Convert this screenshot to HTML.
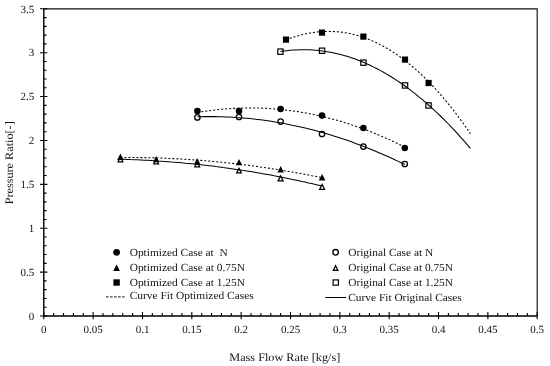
<!DOCTYPE html>
<html><head><meta charset="utf-8"><title>Pressure Ratio vs Mass Flow Rate</title>
<style>html,body{margin:0;padding:0;background:#fff;}svg{display:block;}text{text-rendering:geometricPrecision;}</style></head>
<body>
<svg width="550" height="366" viewBox="0 0 550 366">
<rect width="550" height="366" fill="#fff"/>
<path d="M43.8,8.8 H537.2 V316.0" fill="none" stroke="#111" stroke-width="1.15"/>
<path d="M43.8,8.3 V316.0 H537.2" fill="none" stroke="#000" stroke-width="1.4"/>
<path d="M43.80,312.1 V319.2 M53.67,313.0 V316.0 M63.54,313.0 V316.0 M73.40,313.0 V316.0 M83.27,313.0 V316.0 M93.14,312.1 V319.2 M103.01,313.0 V316.0 M112.88,313.0 V316.0 M122.74,313.0 V316.0 M132.61,313.0 V316.0 M142.48,312.1 V319.2 M152.35,313.0 V316.0 M162.22,313.0 V316.0 M172.08,313.0 V316.0 M181.95,313.0 V316.0 M191.82,312.1 V319.2 M201.69,313.0 V316.0 M211.56,313.0 V316.0 M221.42,313.0 V316.0 M231.29,313.0 V316.0 M241.16,312.1 V319.2 M251.03,313.0 V316.0 M260.90,313.0 V316.0 M270.76,313.0 V316.0 M280.63,313.0 V316.0 M290.50,312.1 V319.2 M300.37,313.0 V316.0 M310.24,313.0 V316.0 M320.10,313.0 V316.0 M329.97,313.0 V316.0 M339.84,312.1 V319.2 M349.71,313.0 V316.0 M359.58,313.0 V316.0 M369.44,313.0 V316.0 M379.31,313.0 V316.0 M389.18,312.1 V319.2 M399.05,313.0 V316.0 M408.92,313.0 V316.0 M418.78,313.0 V316.0 M428.65,313.0 V316.0 M438.52,312.1 V319.2 M448.39,313.0 V316.0 M458.26,313.0 V316.0 M468.12,313.0 V316.0 M477.99,313.0 V316.0 M487.86,312.1 V319.2 M497.73,313.0 V316.0 M507.60,313.0 V316.0 M517.46,313.0 V316.0 M527.33,313.0 V316.0 M537.20,312.1 V319.2 M40.0,316.00 H47.4 M43.8,307.22 H46.599999999999994 M43.8,298.45 H46.599999999999994 M43.8,289.67 H46.599999999999994 M43.8,280.89 H46.599999999999994 M40.0,272.11 H47.4 M43.8,263.34 H46.599999999999994 M43.8,254.56 H46.599999999999994 M43.8,245.78 H46.599999999999994 M43.8,237.01 H46.599999999999994 M40.0,228.23 H47.4 M43.8,219.45 H46.599999999999994 M43.8,210.67 H46.599999999999994 M43.8,201.90 H46.599999999999994 M43.8,193.12 H46.599999999999994 M40.0,184.34 H47.4 M43.8,175.57 H46.599999999999994 M43.8,166.79 H46.599999999999994 M43.8,158.01 H46.599999999999994 M43.8,149.23 H46.599999999999994 M40.0,140.46 H47.4 M43.8,131.68 H46.599999999999994 M43.8,122.90 H46.599999999999994 M43.8,114.13 H46.599999999999994 M43.8,105.35 H46.599999999999994 M40.0,96.57 H47.4 M43.8,87.79 H46.599999999999994 M43.8,79.02 H46.599999999999994 M43.8,70.24 H46.599999999999994 M43.8,61.46 H46.599999999999994 M40.0,52.69 H47.4 M43.8,43.91 H46.599999999999994 M43.8,35.13 H46.599999999999994 M43.8,26.35 H46.599999999999994 M43.8,17.58 H46.599999999999994 M40.0,8.80 H47.4" fill="none" stroke="#000" stroke-width="1.1"/>
<g font-family="'Liberation Serif', serif" font-size="11px" fill="#111">
<text x="43.8" y="332.8" text-anchor="middle">0</text>
<text x="93.1" y="332.8" text-anchor="middle">0.05</text>
<text x="142.5" y="332.8" text-anchor="middle">0.1</text>
<text x="191.8" y="332.8" text-anchor="middle">0.15</text>
<text x="241.2" y="332.8" text-anchor="middle">0.2</text>
<text x="290.5" y="332.8" text-anchor="middle">0.25</text>
<text x="339.8" y="332.8" text-anchor="middle">0.3</text>
<text x="389.2" y="332.8" text-anchor="middle">0.35</text>
<text x="438.5" y="332.8" text-anchor="middle">0.4</text>
<text x="487.9" y="332.8" text-anchor="middle">0.45</text>
<text x="537.2" y="332.8" text-anchor="middle">0.5</text>
<text x="34.3" y="319.7" text-anchor="end">0</text>
<text x="34.3" y="275.8" text-anchor="end">0.5</text>
<text x="34.3" y="231.9" text-anchor="end">1</text>
<text x="34.3" y="188.0" text-anchor="end">1.5</text>
<text x="34.3" y="144.2" text-anchor="end">2</text>
<text x="34.3" y="100.3" text-anchor="end">2.5</text>
<text x="34.3" y="56.4" text-anchor="end">3</text>
<text x="34.3" y="12.5" text-anchor="end">3.5</text>
</g>
<g font-family="'Liberation Serif', serif" font-size="11.4px" fill="#111">
<text x="229.3" y="361.4" textLength="111" lengthAdjust="spacingAndGlyphs">Mass Flow Rate [kg/s]</text>
<text transform="translate(12.8,204.3) rotate(-90)" textLength="83" lengthAdjust="spacingAndGlyphs">Pressure Ratio[-]</text>
</g>
<g fill="none" stroke="#000">
<path d="M197.4,112.5 L200.9,111.9 L204.4,111.4 L207.9,110.9 L211.5,110.4 L215.0,110.0 L218.5,109.6 L222.0,109.2 L225.5,108.9 L229.0,108.7 L232.6,108.4 L236.1,108.3 L239.6,108.1 L243.1,108.0 L246.6,108.0 L250.1,107.9 L253.6,108.0 L257.2,108.0 L260.7,108.1 L264.2,108.3 L267.7,108.4 L271.2,108.7 L274.7,108.9 L278.3,109.2 L281.8,109.6 L285.3,110.0 L288.8,110.4 L292.3,110.9 L295.8,111.4 L299.3,111.9 L302.9,112.5 L306.4,113.1 L309.9,113.8 L313.4,114.5 L316.9,115.3 L320.4,116.0 L323.9,116.9 L327.5,117.7 L331.0,118.7 L334.5,119.6 L338.0,120.6 L341.5,121.6 L345.0,122.7 L348.6,123.8 L352.1,125.0 L355.6,126.2 L359.1,127.4 L362.6,128.7 L366.1,130.0 L369.6,131.3 L373.2,132.7 L376.7,134.2 L380.2,135.7 L383.7,137.2 L387.2,138.7 L390.7,140.3 L394.3,142.0 L397.8,143.7 L401.3,145.4 L404.8,147.1" stroke-width="1.05" stroke-dasharray="2 2"/>
<path d="M197.4,116.8 L200.9,116.7 L204.4,116.6 L207.9,116.6 L211.5,116.6 L215.0,116.6 L218.5,116.7 L222.0,116.8 L225.5,116.9 L229.0,117.0 L232.6,117.2 L236.1,117.5 L239.6,117.7 L243.1,118.0 L246.6,118.3 L250.1,118.6 L253.6,119.0 L257.2,119.4 L260.7,119.8 L264.2,120.3 L267.7,120.8 L271.2,121.3 L274.7,121.9 L278.3,122.5 L281.8,123.1 L285.3,123.8 L288.8,124.4 L292.3,125.2 L295.8,125.9 L299.3,126.7 L302.9,127.5 L306.4,128.3 L309.9,129.2 L313.4,130.1 L316.9,131.0 L320.4,132.0 L323.9,133.0 L327.5,134.0 L331.0,135.1 L334.5,136.2 L338.0,137.3 L341.5,138.5 L345.0,139.6 L348.6,140.8 L352.1,142.1 L355.6,143.4 L359.1,144.7 L362.6,146.0 L366.1,147.4 L369.6,148.8 L373.2,150.2 L376.7,151.7 L380.2,153.2 L383.7,154.7 L387.2,156.3 L390.7,157.8 L394.3,159.5 L397.8,161.1 L401.3,162.8 L404.8,164.5" stroke-width="1.05"/>
<path d="M120.4,157.5 L123.8,157.5 L127.2,157.5 L130.7,157.5 L134.1,157.5 L137.5,157.5 L140.9,157.6 L144.3,157.6 L147.7,157.7 L151.2,157.8 L154.6,157.9 L158.0,158.0 L161.4,158.1 L164.8,158.3 L168.3,158.4 L171.7,158.6 L175.1,158.7 L178.5,158.9 L181.9,159.1 L185.4,159.3 L188.8,159.5 L192.2,159.8 L195.6,160.0 L199.0,160.3 L202.4,160.5 L205.9,160.8 L209.3,161.1 L212.7,161.4 L216.1,161.7 L219.5,162.1 L223.0,162.4 L226.4,162.8 L229.8,163.1 L233.2,163.5 L236.6,163.9 L240.1,164.3 L243.5,164.7 L246.9,165.2 L250.3,165.6 L253.7,166.1 L257.1,166.5 L260.6,167.0 L264.0,167.5 L267.4,168.0 L270.8,168.5 L274.2,169.0 L277.7,169.6 L281.1,170.1 L284.5,170.7 L287.9,171.3 L291.3,171.9 L294.8,172.5 L298.2,173.1 L301.6,173.7 L305.0,174.3 L308.4,175.0 L311.8,175.7 L315.3,176.3 L318.7,177.0 L322.1,177.7" stroke-width="1.05" stroke-dasharray="2 2"/>
<path d="M120.4,159.2 L123.8,159.3 L127.2,159.4 L130.7,159.6 L134.1,159.7 L137.5,159.8 L140.9,160.0 L144.3,160.2 L147.7,160.3 L151.2,160.5 L154.6,160.7 L158.0,161.0 L161.4,161.2 L164.8,161.4 L168.3,161.7 L171.7,162.0 L175.1,162.2 L178.5,162.5 L181.9,162.8 L185.4,163.2 L188.8,163.5 L192.2,163.8 L195.6,164.2 L199.0,164.5 L202.4,164.9 L205.9,165.3 L209.3,165.7 L212.7,166.1 L216.1,166.6 L219.5,167.0 L223.0,167.5 L226.4,167.9 L229.8,168.4 L233.2,168.9 L236.6,169.4 L240.1,169.9 L243.5,170.5 L246.9,171.0 L250.3,171.5 L253.7,172.1 L257.1,172.7 L260.6,173.3 L264.0,173.9 L267.4,174.5 L270.8,175.1 L274.2,175.8 L277.7,176.4 L281.1,177.1 L284.5,177.8 L287.9,178.5 L291.3,179.2 L294.8,179.9 L298.2,180.6 L301.6,181.4 L305.0,182.1 L308.4,182.9 L311.8,183.6 L315.3,184.4 L318.7,185.2 L322.1,186.1" stroke-width="1.05"/>
<path d="M286.0,40.0 L289.1,38.7 L292.3,37.6 L295.4,36.6 L298.5,35.7 L301.6,34.8 L304.8,34.1 L307.9,33.4 L311.0,32.8 L314.1,32.4 L317.3,32.0 L320.4,31.7 L323.5,31.5 L326.6,31.4 L329.8,31.4 L332.9,31.5 L336.0,31.7 L339.1,31.9 L342.3,32.3 L345.4,32.8 L348.5,33.3 L351.6,34.0 L354.8,34.8 L357.9,35.6 L361.0,36.6 L364.1,37.6 L367.3,38.8 L370.4,40.0 L373.5,41.4 L376.6,42.8 L379.8,44.4 L382.9,46.0 L386.0,47.8 L389.1,49.6 L392.3,51.6 L395.4,53.6 L398.5,55.7 L401.6,58.0 L404.8,60.3 L407.9,62.8 L411.0,65.4 L414.1,68.0 L417.3,70.8 L420.4,73.6 L423.5,76.6 L426.6,79.7 L429.8,82.8 L432.9,86.1 L436.0,89.5 L439.1,93.0 L442.3,96.6 L445.4,100.3 L448.5,104.1 L451.6,108.0 L454.8,112.0 L457.9,116.1 L461.0,120.4 L464.1,124.7 L467.3,129.2 L470.4,133.7" stroke-width="1.05" stroke-dasharray="2 2"/>
<path d="M280.4,51.6 L283.6,51.1 L286.8,50.7 L290.1,50.3 L293.3,50.1 L296.5,49.9 L299.7,49.7 L302.9,49.7 L306.2,49.7 L309.4,49.8 L312.6,50.0 L315.8,50.2 L319.0,50.5 L322.3,50.9 L325.5,51.4 L328.7,51.9 L331.9,52.5 L335.1,53.2 L338.4,53.9 L341.6,54.8 L344.8,55.7 L348.0,56.6 L351.2,57.7 L354.5,58.8 L357.7,60.0 L360.9,61.3 L364.1,62.6 L367.3,64.0 L370.6,65.5 L373.8,67.1 L377.0,68.7 L380.2,70.4 L383.5,72.2 L386.7,74.1 L389.9,76.0 L393.1,78.0 L396.3,80.1 L399.6,82.3 L402.8,84.5 L406.0,86.8 L409.2,89.2 L412.4,91.6 L415.7,94.2 L418.9,96.8 L422.1,99.4 L425.3,102.2 L428.5,105.0 L431.8,107.9 L435.0,110.9 L438.2,113.9 L441.4,117.0 L444.6,120.2 L447.9,123.5 L451.1,126.8 L454.3,130.2 L457.5,133.7 L460.7,137.3 L464.0,140.9 L467.2,144.6 L470.4,148.4" stroke-width="1.05"/>
</g>
<circle cx="197.4" cy="117.4" r="2.70" fill="none" stroke="#000" stroke-width="1.3"/>
<circle cx="239" cy="117" r="2.70" fill="none" stroke="#000" stroke-width="1.3"/>
<circle cx="280.6" cy="121.6" r="2.70" fill="none" stroke="#000" stroke-width="1.3"/>
<circle cx="322" cy="134" r="2.70" fill="none" stroke="#000" stroke-width="1.3"/>
<circle cx="363.4" cy="146.6" r="2.70" fill="none" stroke="#000" stroke-width="1.3"/>
<circle cx="404.8" cy="164" r="2.70" fill="none" stroke="#000" stroke-width="1.3"/>
<circle cx="197.4" cy="111" r="3.30" fill="#000"/>
<circle cx="239" cy="111" r="3.30" fill="#000"/>
<circle cx="280.6" cy="109" r="3.30" fill="#000"/>
<circle cx="322" cy="115.6" r="3.30" fill="#000"/>
<circle cx="363.4" cy="128" r="3.30" fill="#000"/>
<circle cx="404.8" cy="148" r="3.30" fill="#000"/>
<path d="M120.4,157.00 L122.79,161.78 H118.01 Z" fill="none" stroke="#000" stroke-width="1.25"/>
<path d="M156.2,159.00 L158.59,163.78 H153.81 Z" fill="none" stroke="#000" stroke-width="1.25"/>
<path d="M197.2,162.00 L199.59,166.78 H194.81 Z" fill="none" stroke="#000" stroke-width="1.25"/>
<path d="M239,168.30 L241.34,172.97 H236.66 Z" fill="none" stroke="#000" stroke-width="1.25"/>
<path d="M280.6,175.90 L283.14,180.97 H278.06 Z" fill="none" stroke="#000" stroke-width="1.25"/>
<path d="M322.1,184.40 L324.54,189.28 H319.66 Z" fill="none" stroke="#000" stroke-width="1.25"/>
<path d="M120.4,153.6 L123.60,160.0 H117.20 Z" fill="#000"/>
<path d="M156.2,156.0 L159.35,162.3 H153.05 Z" fill="#000"/>
<path d="M197.2,158.0 L200.35,164.3 H194.05 Z" fill="#000"/>
<path d="M239,159.0 L242.10,165.2 H235.90 Z" fill="#000"/>
<path d="M280.6,165.9 L283.85,172.4 H277.35 Z" fill="#000"/>
<path d="M322.1,173.9 L325.45,180.6 H318.75 Z" fill="#000"/>
<rect x="277.8" y="49.0" width="5.30" height="5.30" fill="none" stroke="#000" stroke-width="1.2"/>
<rect x="319.4" y="48.1" width="5.30" height="5.30" fill="none" stroke="#000" stroke-width="1.2"/>
<rect x="360.8" y="60.0" width="5.30" height="5.30" fill="none" stroke="#000" stroke-width="1.2"/>
<rect x="402.4" y="82.8" width="5.30" height="5.30" fill="none" stroke="#000" stroke-width="1.2"/>
<rect x="425.9" y="102.8" width="5.30" height="5.30" fill="none" stroke="#000" stroke-width="1.2"/>
<rect x="282.9" y="36.5" width="6.20" height="6.20" fill="#000"/>
<rect x="318.9" y="29.5" width="6.20" height="6.20" fill="#000"/>
<rect x="360.3" y="33.5" width="6.20" height="6.20" fill="#000"/>
<rect x="401.9" y="56.5" width="6.20" height="6.20" fill="#000"/>
<rect x="425.5" y="79.9" width="6.20" height="6.20" fill="#000"/>
<circle cx="116.6" cy="252.3" r="3.40" fill="#000"/>
<path d="M116.6,264.4 L119.90,271.0 H113.30 Z" fill="#000"/>
<rect x="113.4" y="279.3" width="6.39" height="6.39" fill="#000"/>
<path d="M106,296.9 H125" stroke="#000" stroke-width="0.9" stroke-dasharray="2.7 1.3"/>
<circle cx="335.6" cy="252.3" r="2.80" fill="none" stroke="#000" stroke-width="1.3"/>
<path d="M335.6,265.70 L337.94,270.38 H333.26 Z" fill="none" stroke="#000" stroke-width="1.25"/>
<rect x="333.1" y="279.9" width="5.30" height="5.30" fill="none" stroke="#000" stroke-width="1.2"/>
<path d="M325.3,297.5 H346.1" stroke="#000" stroke-width="1"/>
<g font-family="'Liberation Serif', serif" font-size="10.9px" fill="#111" style="white-space:pre">
<text x="129.7" y="255.8" textLength="98" lengthAdjust="spacingAndGlyphs">Optimized Case at &#160;N</text>
<text x="129.7" y="270.8" textLength="115.2" lengthAdjust="spacingAndGlyphs">Optimized Case at 0.75N</text>
<text x="129.7" y="285.9" textLength="115.2" lengthAdjust="spacingAndGlyphs">Optimized Case at 1.25N</text>
<text x="129.7" y="298.8" textLength="124" lengthAdjust="spacingAndGlyphs">Curve Fit Optimized Cases</text>
<text x="348.2" y="255.8" textLength="85" lengthAdjust="spacingAndGlyphs">Original Case at N</text>
<text x="348.2" y="270.6" textLength="104.8" lengthAdjust="spacingAndGlyphs">Original Case at 0.75N</text>
<text x="348.2" y="285.7" textLength="104.8" lengthAdjust="spacingAndGlyphs">Original Case at 1.25N</text>
<text x="348.2" y="300.8" textLength="113.6" lengthAdjust="spacingAndGlyphs">Curve Fit Original Cases</text>
</g>
</svg>
</body></html>
